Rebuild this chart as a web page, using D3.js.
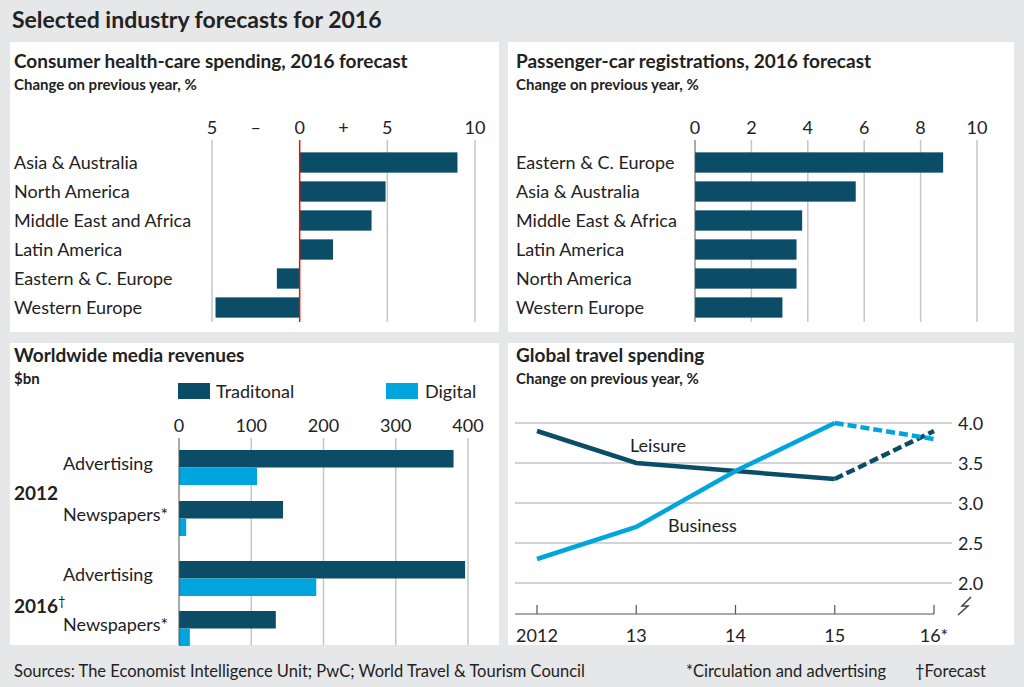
<!DOCTYPE html>
<html>
<head>
<script src="https://d3js.org/d3.v7.min.js"></script>
<style>
body{margin:0;background:#e6e7e8;font-family:Lato,"Open Sans",sans-serif;}
text{font-family:Lato,"Open Sans",sans-serif;fill:#222;}
</style>
</head>
<body>
<svg id="c" width="1024" height="687"></svg>
<script>
// top-left: consumer health-care
var healthRegions = ["Asia & Australia","North America","Middle East and Africa","Latin America","Eastern & C. Europe","Western Europe"];
var healthValues = [9.0, 4.9, 4.1, 1.9, -1.3, -4.8];
// top-right: car registrations
var carRegions = ["Eastern & C. Europe","Asia & Australia","Middle East & Africa","Latin America","North America","Western Europe"];
var carValues = [8.8, 5.7, 3.8, 3.6, 3.6, 3.1];
// bottom-left: media revenues
var mediaRows = ["Advertising","Newspapers*","Advertising","Newspapers*"];
var mediaTraditional = [380, 144, 396, 134];
var mediaDigital = [108, 10, 190, 15];
// bottom-right: travel
var travelYears = ["2012","13","14","15","16*"];
var leisure = [3.9, 3.5, 3.4, 3.3, 3.9];
var business = [2.3, 2.7, 3.4, 4.0, 3.8];

var dark = "#0b4d66", light = "#00a5de", grid = "#c4c6c8";
var svg = d3.select("#c");

// panels
[[10,42,489,290],[508,42,506,290],[10,343,489,302],[508,343,506,302]].forEach(function(p){
  svg.append("rect").attr("x",p[0]).attr("y",p[1]).attr("width",p[2]).attr("height",p[3]).attr("fill","#fff");
});

svg.append("text").attr("x",12).attr("y",28).attr("font-size",23).attr("font-weight","bold").text("Selected industry forecasts for 2016");

function heads(x,y,t,s){
  svg.append("text").attr("x",x).attr("y",y).attr("font-size",19).attr("font-weight","bold").text(t);
  if(s) svg.append("text").attr("x",x).attr("y",y+22).attr("font-size",15).attr("font-weight","bold").text(s);
}
heads(14,68,"Consumer health-care spending, 2016 forecast","Change on previous year, %");
heads(516,68,"Passenger-car registrations, 2016 forecast","Change on previous year, %");
heads(14,362,"Worldwide media revenues","$bn");
heads(516,362,"Global travel spending","Change on previous year, %");

// ---- health
var hx = d3.scaleLinear().domain([-5,10]).range([212,475]);
var hy = d3.scaleBand().domain(healthRegions).range([148,322]).paddingInner(0.3).paddingOuter(0.15);
[-5,0,5,10].forEach(function(t){
  if(t!==0) svg.append("line").attr("x1",hx(t)).attr("x2",hx(t)).attr("y1",140).attr("y2",322).attr("stroke",grid).attr("stroke-width",1.5);
  svg.append("text").attr("x",hx(t)).attr("y",134).attr("text-anchor","middle").attr("font-size",18).text(Math.abs(t));
});
svg.append("text").attr("x",hx(-2.5)).attr("y",134).attr("text-anchor","middle").attr("font-size",18).text("–");
svg.append("text").attr("x",hx(2.5)).attr("y",134).attr("text-anchor","middle").attr("font-size",18).text("+");
svg.selectAll(".hb").data(healthValues).enter().append("rect")
  .attr("x",function(d){return hx(Math.min(0,d));}).attr("width",function(d){return Math.abs(hx(d)-hx(0));})
  .attr("y",function(d,i){return hy(healthRegions[i]);}).attr("height",hy.bandwidth()).attr("fill",dark);
svg.append("line").attr("x1",hx(0)).attr("x2",hx(0)).attr("y1",140).attr("y2",322).attr("stroke","#e3120b").attr("stroke-width",1.5);
healthRegions.forEach(function(r){
  svg.append("text").attr("x",14).attr("y",hy(r)+hy.bandwidth()/2+6).attr("font-size",18).text(r);
});

// ---- cars
var cx = d3.scaleLinear().domain([0,10]).range([695,977]);
var cy = d3.scaleBand().domain(carRegions).range([148,322]).paddingInner(0.3).paddingOuter(0.15);
d3.range(0,11,2).forEach(function(t){
  if(t!==0) svg.append("line").attr("x1",cx(t)).attr("x2",cx(t)).attr("y1",140).attr("y2",322).attr("stroke",grid).attr("stroke-width",1.5);
  svg.append("text").attr("x",cx(t)).attr("y",134).attr("text-anchor","middle").attr("font-size",18).text(t);
});
svg.selectAll(".cb").data(carValues).enter().append("rect")
  .attr("x",cx(0)).attr("width",function(d){return cx(d)-cx(0);})
  .attr("y",function(d,i){return cy(carRegions[i]);}).attr("height",cy.bandwidth()).attr("fill",dark);
svg.append("line").attr("x1",cx(0)).attr("x2",cx(0)).attr("y1",140).attr("y2",322).attr("stroke","#555").attr("stroke-width",1);
carRegions.forEach(function(r){
  svg.append("text").attr("x",516).attr("y",cy(r)+cy.bandwidth()/2+6).attr("font-size",18).text(r);
});

// ---- media
var mx = d3.scaleLinear().domain([0,400]).range([179,468]);
var rowTop = [450,501,561,611], bh = 17.5;
[0,100,200,300,400].forEach(function(t){
  if(t!==0) svg.append("line").attr("x1",mx(t)).attr("x2",mx(t)).attr("y1",438).attr("y2",645).attr("stroke",grid).attr("stroke-width",1.5);
  svg.append("text").attr("x",mx(t)).attr("y",432).attr("text-anchor","middle").attr("font-size",18).text(t);
});
svg.selectAll(".mt").data(mediaTraditional).enter().append("rect")
  .attr("x",mx(0)).attr("width",function(d){return mx(d)-mx(0);})
  .attr("y",function(d,i){return rowTop[i];}).attr("height",bh).attr("fill",dark);
svg.selectAll(".md").data(mediaDigital).enter().append("rect")
  .attr("x",mx(0)).attr("width",function(d){return mx(d)-mx(0);})
  .attr("y",function(d,i){return rowTop[i]+bh;}).attr("height",bh).attr("fill",light);
svg.append("line").attr("x1",mx(0)).attr("x2",mx(0)).attr("y1",438).attr("y2",645).attr("stroke","#555").attr("stroke-width",1);
mediaRows.forEach(function(r,i){
  svg.append("text").attr("x",63).attr("y",rowTop[i]+20).attr("font-size",18).text(r);
});
svg.append("text").attr("x",14).attr("y",500).attr("font-size",19).attr("font-weight","bold").text("2012");
var t16 = svg.append("text").attr("x",14).attr("y",613).attr("font-size",19).attr("font-weight","bold").text("2016");
t16.append("tspan").attr("font-size",13).attr("dy",-7).attr("font-weight","normal").text("†");
svg.append("rect").attr("x",178).attr("y",383).attr("width",32).attr("height",16).attr("fill",dark);
svg.append("text").attr("x",216).attr("y",398).attr("font-size",18).text("Traditonal");
svg.append("rect").attr("x",386).attr("y",383).attr("width",32).attr("height",16).attr("fill",light);
svg.append("text").attr("x",425).attr("y",398).attr("font-size",18).text("Digital");

// ---- travel
var tx = d3.scalePoint().domain(travelYears).range([537,934]);
var ty = d3.scaleLinear().domain([2,4]).range([583,423]);
[2,2.5,3,3.5,4].forEach(function(t){
  svg.append("line").attr("x1",515).attr("x2",952).attr("y1",ty(t)).attr("y2",ty(t)).attr("stroke",grid).attr("stroke-width",1.5);
  svg.append("text").attr("x",958).attr("y",ty(t)+7).attr("font-size",18).text(t.toFixed(1));
});
svg.append("line").attr("x1",515).attr("x2",934).attr("y1",614).attr("y2",614).attr("stroke","#555").attr("stroke-width",1.2);
travelYears.forEach(function(y){
  svg.append("line").attr("x1",tx(y)).attr("x2",tx(y)).attr("y1",605).attr("y2",614).attr("stroke","#555").attr("stroke-width",1.2);
  svg.append("text").attr("x",tx(y)).attr("y",642).attr("text-anchor","middle").attr("font-size",18).text(y);
});
svg.append("path").attr("d","M958,615 L968,606 L962,606 L971,597").attr("fill","none").attr("stroke","#444").attr("stroke-width",1.5);
function series(vals,col){
  var line = d3.line().x(function(d,i){return tx(travelYears[i]);}).y(function(d){return ty(d);});
  svg.append("path").attr("d",line.defined(function(d,i){return i<=3;})(vals)).attr("fill","none").attr("stroke",col).attr("stroke-width",4.5);
  var seg = vals.slice(3);
  svg.append("path").attr("d",d3.line().x(function(d,i){return tx(travelYears[i+3]);}).y(function(d){return ty(d);})(seg))
    .attr("fill","none").attr("stroke",col).attr("stroke-width",4.5).attr("stroke-dasharray","9,4");
}
series(leisure,dark);
series(business,light);
svg.append("text").attr("x",630).attr("y",452).attr("font-size",18).text("Leisure");
svg.append("text").attr("x",668).attr("y",532).attr("font-size",18).text("Business");

// footer
svg.append("text").attr("x",14).attr("y",677).attr("font-size",16.5).text("Sources: The Economist Intelligence Unit; PwC; World Travel & Tourism Council");
svg.append("text").attr("x",886).attr("y",677).attr("text-anchor","end").attr("font-size",16.5).text("*Circulation and advertising");
svg.append("text").attr("x",986).attr("y",677).attr("text-anchor","end").attr("font-size",16.5).text("†Forecast");
</script>
</body>
</html>
